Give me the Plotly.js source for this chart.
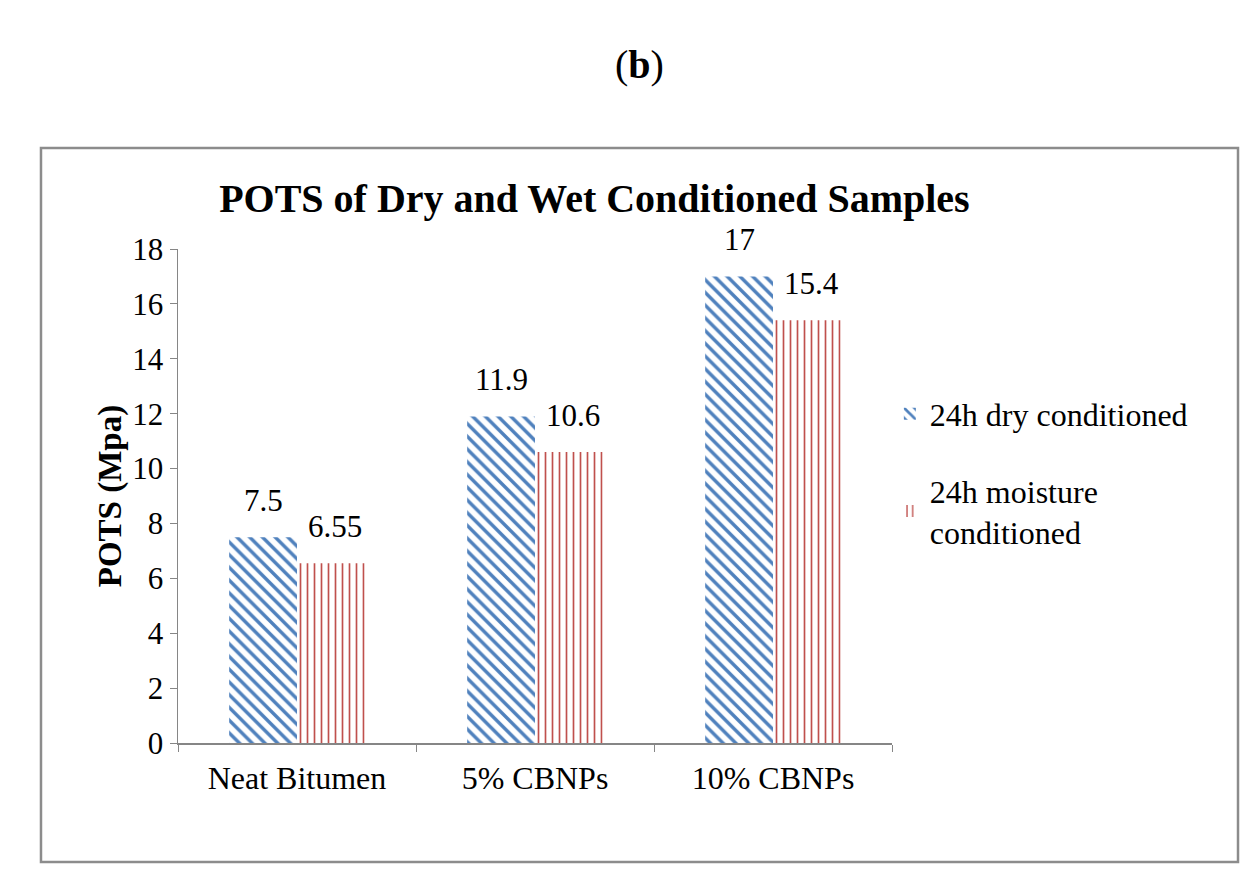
<!DOCTYPE html>
<html>
<head>
<meta charset="utf-8">
<script src="https://cdn.plot.ly/plotly-3.0.1.min.js"></script>
<style>
  html, body { margin: 0; padding: 0; background: #ffffff; }
  #chart { width: 1254px; height: 878px; }
</style>
</head>
<body>
<div id="chart"></div>
<script>
// Pull-off tensile strength (POTS) per binder type
const categories = ["Neat Bitumen", "5% CBNPs", "10% CBNPs"];
const dryValues = [7.5, 11.9, 17];
const wetValues = [6.55, 10.6, 15.4];
const dryLabels = ["7.5", "11.9", "17"];
const wetLabels = ["6.55", "10.6", "15.4"];
const seriesNames = ["24h dry conditioned", "24h moisture<br>conditioned"];

const serif = "Times New Roman, Liberation Serif, Tinos, DejaVu Serif, serif";
const BLUE = "#4f81bd";
const RED = "#c0504d";

const traces = [
  {
    type: "bar",
    name: seriesNames[0],
    legendgroup: "dry",
    x: categories,
    y: dryValues,
    marker: {
      color: "#ffffff",
      line: { width: 0 },
      pattern: { shape: "\\", fgcolor: BLUE, bgcolor: "#ffffff", size: 9, solidity: 0.38, fillmode: "replace" }
    },
    hoverinfo: "skip"
  },
  {
    type: "bar",
    name: seriesNames[1],
    legendgroup: "wet",
    x: categories,
    y: wetValues,
    marker: {
      color: "#ffffff",
      line: { width: 0 },
      pattern: { shape: "|", fgcolor: RED, bgcolor: "#ffffff", size: 7, solidity: 0.24, fillmode: "replace" }
    },
    hoverinfo: "skip"
  }
];

// value labels placed above each bar
const annotations = [];
categories.forEach((c, i) => {
  annotations.push({
    x: c, y: dryValues[i], xref: "x", yref: "y",
    text: dryLabels[i], showarrow: false,
    xanchor: "center", yanchor: "bottom", xshift: -34, yshift: 17,
    font: { family: serif, size: 31, color: "#000000" }
  });
  annotations.push({
    x: c, y: wetValues[i], xref: "x", yref: "y",
    text: wetLabels[i], showarrow: false,
    xanchor: "center", yanchor: "bottom", xshift: 38, yshift: 17,
    font: { family: serif, size: 31, color: "#000000" }
  });
});

// panel label above the framed chart
annotations.push({
  xref: "paper", yref: "paper", x: 0.647, y: 1.373,
  text: "(<b>b</b>)", showarrow: false, xanchor: "center", yanchor: "middle",
  font: { family: serif, size: 40, color: "#000000" }
});

const layout = {
  width: 1254,
  height: 878,
  paper_bgcolor: "#ffffff",
  plot_bgcolor: "#ffffff",
  margin: { l: 178, r: 362, t: 249, b: 135 },
  showlegend: true,
  title: {
    text: "<b>POTS of Dry and Wet Conditioned Samples</b>",
    font: { family: serif, size: 40, color: "#000000" },
    x: 0.474, xanchor: "center",
    y: 0.774, yanchor: "middle"
  },
  bargap: 0.43,
  bargroupgap: 0,
  barmode: "group",
  xaxis: {
    type: "category",
    showline: true, linecolor: "#868686", linewidth: 1.5,
    ticks: "outside", tickson: "boundaries", ticklen: 7, tickcolor: "#868686",
    showgrid: false, zeroline: false,
    ticklabelstandoff: 6,
    tickfont: { family: serif, size: 32, color: "#000000" },
    fixedrange: true
  },
  yaxis: {
    range: [0, 18], dtick: 2,
    showline: true, linecolor: "#868686", linewidth: 1.5,
    ticks: "outside", ticklen: 7, tickcolor: "#868686",
    showgrid: false, zeroline: false,
    tickfont: { family: serif, size: 31, color: "#000000" },
    title: { text: "<b>POTS (Mpa)</b>", font: { family: serif, size: 33, color: "#000000" }, standoff: 0 },
    fixedrange: true
  },
  legend: {
    x: 0.997, y: 0.722, xanchor: "left", yanchor: "top",
    font: { family: serif, size: 32, color: "#000000" },
    traceorder: "grouped",
    tracegroupgap: 32,
    itemwidth: 30,
    bgcolor: "rgba(0,0,0,0)"
  },
  shapes: [
    {
      type: "rect", xref: "paper", yref: "paper",
      x0: -0.1919, x1: 1.4846, y0: -0.2409, y1: 1.2045,
      line: { color: "#8c8c8c", width: 2.5 }, fillcolor: "rgba(0,0,0,0)"
    }
  ],
  annotations: annotations
};

Plotly.newPlot("chart", traces, layout, { displayModeBar: false, staticPlot: true });
</script>
</body>
</html>
